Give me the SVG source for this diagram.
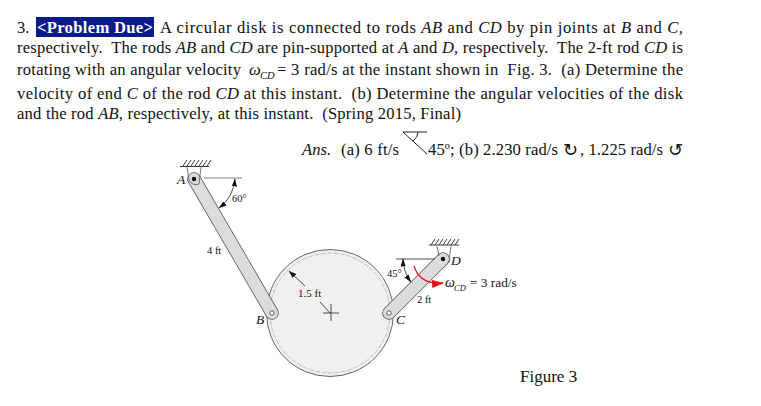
<svg xmlns="http://www.w3.org/2000/svg" width="761" height="406" viewBox="0 0 761 406">
<style>
text{font-family:"Liberation Serif","Times New Roman",serif;fill:#111;white-space:pre}
.t{font-size:16.6px}
.i{font-style:italic}
.s{font-size:10.5px}
.l{font-size:13.5px;font-style:italic}
.rodo{stroke:#555;stroke-width:13.5;stroke-linecap:round;fill:none}
.rodi{stroke:#dcdcdc;stroke-width:12;stroke-linecap:round;fill:none}
.thin{stroke:#222;stroke-width:.8;fill:none}
.hatch{stroke:#222;stroke-width:.9;fill:none}
.sup{stroke:#555;stroke-width:.8;fill:none}
.sym{font-family:"DejaVu Sans",sans-serif;font-size:18px}
</style>
<defs>
<marker id="ah" viewBox="0 0 8 6" refX="7.500" refY="3" markerWidth="8" markerHeight="6" orient="auto-start-reverse" markerUnits="userSpaceOnUse"><path d="M0 .4L8 3L0 5.600Z" fill="#111"/></marker>
<marker id="rh" viewBox="0 0 12 8" refX="11" refY="4" markerWidth="12" markerHeight="8" orient="auto" markerUnits="userSpaceOnUse"><path d="M0 0L12 4L0 8Z" fill="#e0141c"/></marker>
</defs>
<rect width="761" height="406" fill="#fff"/>
<g id="problem-text">
<text class="t" x="17" y="33">3.</text>
<rect x="36" y="17" width="118" height="20" fill="#0a1a8c"/>
<text x="37" y="33" font-size="16.600" font-weight="bold" style="fill:#fff" textLength="116" lengthAdjust="spacing">&lt;Problem Due&gt;</text>
<text class="t" x="160" y="33" textLength="523" lengthAdjust="spacing">A circular disk is connected to rods <tspan class="i">AB</tspan> and <tspan class="i">CD</tspan> by pin joints at <tspan class="i">B</tspan> and <tspan class="i">C</tspan>,</text>
<text class="t" x="17" y="53" textLength="666" lengthAdjust="spacing">respectively.  The rods <tspan class="i">AB</tspan> and <tspan class="i">CD</tspan> are pin-supported at <tspan class="i">A</tspan> and <tspan class="i">D</tspan>, respectively.  The 2-ft rod <tspan class="i">CD</tspan> is</text>
<text class="t" x="17" y="75" textLength="224" lengthAdjust="spacing">rotating with an angular velocity</text>
<text class="t i" x="249" y="75">ω</text>
<text class="i" x="260" y="79" font-size="10.500">CD</text>
<text class="t" x="277" y="75" textLength="406" lengthAdjust="spacing">= 3 rad/s at the instant shown in  Fig. 3.  (a) Determine the</text>
<text class="t" x="17" y="99" textLength="666" lengthAdjust="spacing">velocity of end <tspan class="i">C</tspan> of the rod <tspan class="i">CD</tspan> at this instant.  (b) Determine the angular velocities of the disk</text>
<text class="t" x="17" y="119" textLength="444" lengthAdjust="spacing">and the rod <tspan class="i">AB</tspan>, respectively, at this instant.  (Spring 2015, Final)</text>
</g>
<g id="answer">
<text class="t i" x="302" y="155">Ans.</text>
<text class="t" x="341" y="155" textLength="58" lengthAdjust="spacing">(a) 6 ft/s</text>
<path class="thin" d="M403 132H427M403 132L427 154M418 132Q418 137 413 141" style="stroke-width:1"/>
<text class="t" x="428" y="155" textLength="130" lengthAdjust="spacing">45º; (b) 2.230 rad/s</text>
<text class="sym" x="563" y="156">↻</text>
<text class="t" x="580" y="155" textLength="83" lengthAdjust="spacing">, 1.225 rad/s</text>
<text class="sym" x="668" y="156">↺</text>
</g>
<g id="disk">
<circle cx="330" cy="313" r="63.500" fill="#f0f0f0" stroke="#555" stroke-width=".9"/>
<circle cx="330" cy="313" r="60" fill="none" stroke="#aaa" stroke-width=".7" stroke-dasharray="5 1.500"/>
<path class="thin" d="M323 313H339M331 304V321"/>
</g>
<g id="rod-ab">
<path class="rodo" d="M194 179L272 313"/>
<path class="rodi" d="M194 179L272 313"/>
<circle cx="272" cy="313" r="2.200" fill="#fff" stroke="#333" stroke-width=".8"/>
</g>
<g id="rod-cd">
<path class="rodo" d="M443 259L389 313"/>
<path class="rodi" d="M443 259L389 313"/>
<circle cx="389" cy="313" r="2.200" fill="#fff" stroke="#333" stroke-width=".8"/>
</g>
<g id="support-a">
<path class="hatch" d="M180 166.500H209"/>
<path class="hatch" d="M183 166L187 160M187 166L191 160M191 166L195 160M195 166L199 160M199 166L203 160M203 166L207 160M207 166L211 160"/>
<path class="sup" d="M187 167L189 180A7.500 7.500 0 0 0 199 184L201 167"/>
<circle cx="194" cy="179" r="2.200" fill="#111"/>
</g>
<g id="support-d">
<path class="hatch" d="M429 245H459"/>
<path class="hatch" d="M431 245L435 239M435 245L439 239M439 245L443 239M443 245L447 239M447 245L451 239M451 245L455 239M455 245L459 239"/>
<path class="sup" d="M437 246L439 256M451 246L449.500 256A7.500 7.500 0 0 1 446 265"/>
<circle cx="443" cy="259" r="2.200" fill="#111"/>
</g>
<g id="connectors">
<path d="M204 178H242" stroke="#aaa" stroke-width="1.300" fill="none"/>
<path class="thin" d="M235 179A41 41 0 0 1 219 208" marker-start="url(#ah)" marker-end="url(#ah)"/>
<path class="thin" d="M396 259H435"/>
<path class="thin" d="M403 259A40 40 0 0 0 411 282" marker-start="url(#ah)" marker-end="url(#ah)"/>
<path class="thin" d="M305 286L289 271" marker-end="url(#ah)"/>
<path class="thin" d="M320 302L330 313"/>
<path d="M414 266Q420 285 443 283" fill="none" stroke="#e0141c" stroke-width="1.200" marker-end="url(#rh)"/>
</g>
<g id="labels">
<text class="s" x="232" y="202">60°</text>
<text class="s" x="207" y="254">4 ft</text>
<text x="298" y="297" font-size="11">1.5 ft</text>
<text class="s" x="387" y="277">45°</text>
<text class="s" x="417" y="303">2 ft</text>
<text class="l" x="177" y="184">A</text>
<text class="l" x="256" y="324">B</text>
<text class="l" x="396" y="324">C</text>
<text class="l" x="451" y="265">D</text>
<text class="i" x="445" y="287" font-size="14">ω</text>
<text class="i" x="454" y="291" font-size="8.500">CD</text>
<text x="470" y="287" font-size="13.300">= 3 rad/s</text>
<text x="520" y="382" font-size="17">Figure 3</text>
</g>
</svg>
